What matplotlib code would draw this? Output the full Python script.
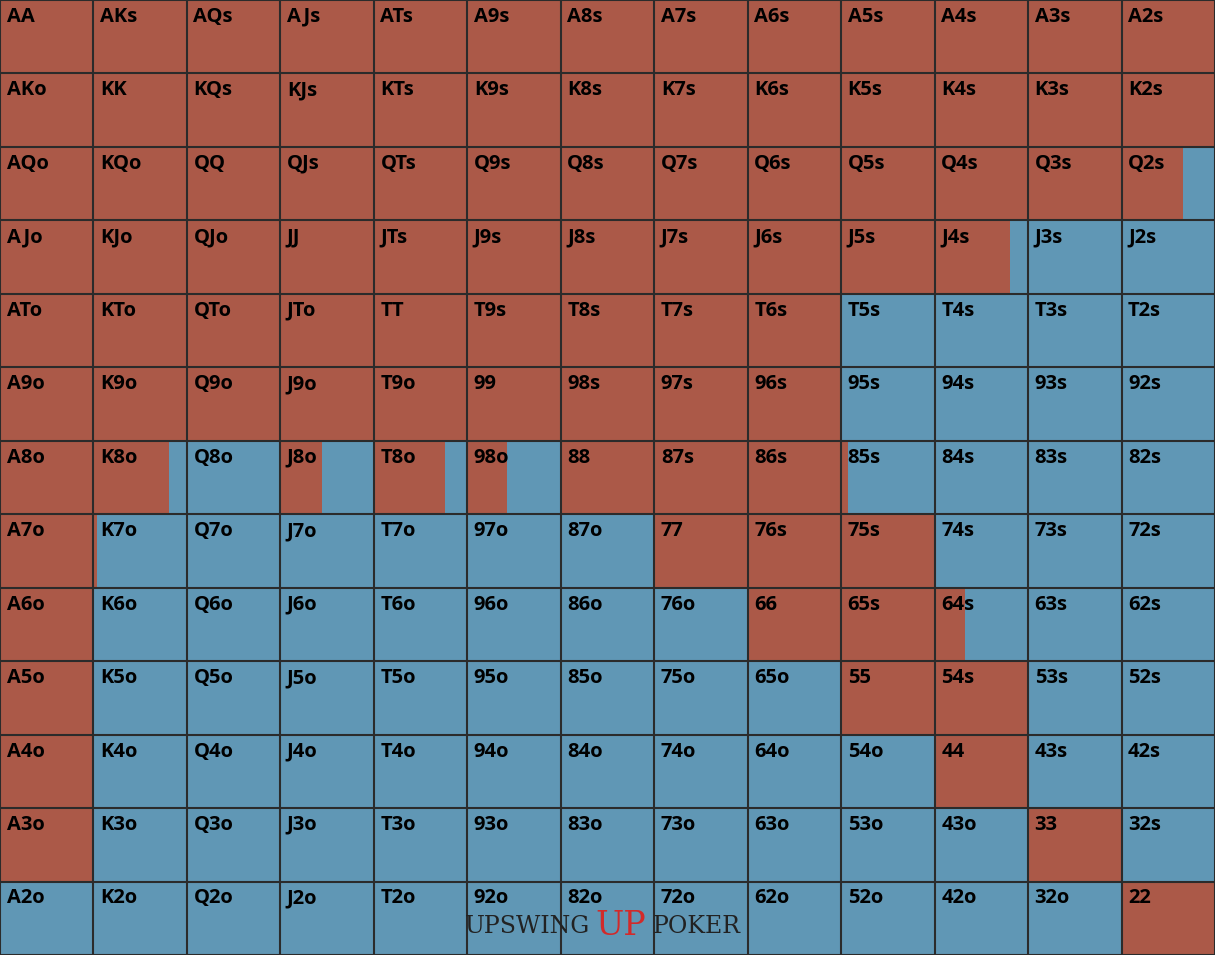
import matplotlib
matplotlib.use("Agg")
import matplotlib.pyplot as plt
from matplotlib.patches import Rectangle

ranks = list("AKQJT98765432")
# raise frequency per cell (row i, col j), red fraction from left
freq = [
    [1,1,1,1,1,1,1,1,1,1,1,1,1],
    [1,1,1,1,1,1,1,1,1,1,1,1,1],
    [1,1,1,1,1,1,1,1,1,1,1,1,0.66],
    [1,1,1,1,1,1,1,1,1,1,0.81,0,0],
    [1,1,1,1,1,1,1,1,1,0,0,0,0],
    [1,1,1,1,1,1,1,1,1,0,0,0,0],
    [1,0.81,0,0.45,0.76,0.42,1,1,1,0.07,0,0,0],
    [1,0.04,0,0,0,0,0,1,1,1,0,0,0],
    [1,0,0,0,0,0,0,0,1,1,0.32,0,0],
    [1,0,0,0,0,0,0,0,0,1,1,0,0],
    [1,0,0,0,0,0,0,0,0,0,1,0,0],
    [1,0,0,0,0,0,0,0,0,0,0,1,0],
    [0,0,0,0,0,0,0,0,0,0,0,0,1],
]
RED = "#ab5948"
BLUE = "#6097b5"
EDGE = "#2b2b2b"

fig = plt.figure(figsize=(12.15, 9.55), dpi=100)
ax = fig.add_axes([0, 0, 1, 1])
ax.set_xlim(0, 13)
ax.set_ylim(13, 0)
ax.axis("off")

for i in range(13):
    for j in range(13):
        f = freq[i][j]
        ax.add_patch(Rectangle((j, i), 1, 1, color=BLUE, lw=0))
        if f > 0:
            ax.add_patch(Rectangle((j, i), f, 1, color=RED, lw=0))
        if i == j:
            lab = ranks[i] * 2
        elif j > i:
            lab = ranks[i] + ranks[j] + "s"
        else:
            lab = ranks[j] + ranks[i] + "o"
        ax.text(j + 0.07, i + 0.23, lab, fontsize=14.5, fontweight="bold",
                family="Open Sans", color="black", va="center", ha="left")

for k in range(14):
    ax.plot([k, k], [0, 13], color=EDGE, lw=1.5)
    ax.plot([0, 13], [k, k], color=EDGE, lw=1.5)

ax.text(5.64, 12.61, "UPSWING", fontsize=17, family="DejaVu Serif",
        color="#222222", va="center", ha="center")
ax.text(7.46, 12.61, "POKER", fontsize=17, family="DejaVu Serif",
        color="#222222", va="center", ha="center")
ax.text(6.64, 12.6, "UP", fontsize=24, family="DejaVu Serif",
        color="#d22a2a", va="center", ha="center")

fig.savefig("out.png", dpi=100)
